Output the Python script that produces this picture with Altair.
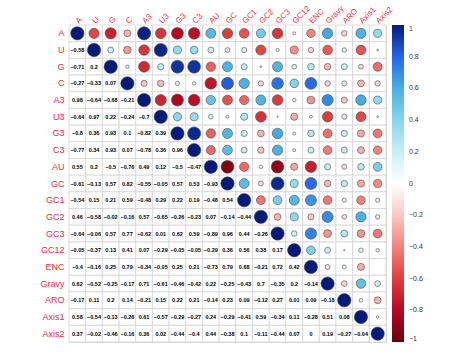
import altair as alt
import pandas as pd

variables = ["A", "U", "G", "C", "A3", "U3", "G3", "C3", "AU", "GC", "GC1", "GC2",
             "GC3", "GC12", "ENC", "Gravy", "ARO", "Axis1", "Axis2"]

# lower triangle (row i, columns 0..i-1)
lower_rows = [
    [],
    [-0.58],
    [-0.71, 0.2],
    [-0.27, -0.33, 0.07],
    [0.98, -0.64, -0.68, -0.21],
    [-0.64, 0.97, 0.22, -0.24, -0.7],
    [-0.8, 0.36, 0.93, 0.1, -0.82, 0.39],
    [-0.77, 0.34, 0.93, 0.07, -0.78, 0.36, 0.96],
    [0.55, 0.2, -0.5, -0.76, 0.49, 0.12, -0.5, -0.47],
    [-0.61, -0.13, 0.57, 0.82, -0.55, -0.05, 0.57, 0.53, -0.93],
    [-0.54, 0.15, 0.21, 0.59, -0.48, 0.29, 0.22, 0.19, -0.48, 0.54],
    [0.46, -0.58, -0.02, -0.16, 0.57, -0.65, -0.26, -0.23, 0.07, -0.14, -0.44],
    [-0.64, -0.06, 0.57, 0.77, -0.62, 0.01, 0.62, 0.59, -0.89, 0.96, 0.44, -0.26],
    [-0.05, -0.37, 0.13, 0.41, 0.07, -0.29, -0.05, -0.05, -0.29, 0.36, 0.56, 0.38, 0.17],
    [-0.4, -0.16, 0.25, 0.79, -0.34, -0.05, 0.25, 0.21, -0.73, 0.79, 0.68, -0.21, 0.72, 0.42],
    [0.62, -0.52, -0.25, -0.17, 0.71, -0.61, -0.46, -0.42, 0.22, -0.25, -0.43, 0.7, -0.35, 0.2, -0.14],
    [-0.17, 0.11, 0.2, 0.14, -0.21, 0.15, 0.22, 0.21, -0.14, 0.23, 0.09, -0.12, 0.27, 0.01, 0.09, -0.18],
    [0.58, -0.54, -0.13, -0.26, 0.61, -0.57, -0.29, -0.27, 0.24, -0.29, -0.41, 0.59, -0.34, 0.11, -0.28, 0.51, 0.08],
    [0.37, -0.02, -0.46, -0.16, 0.36, 0.02, -0.44, -0.4, 0.44, -0.38, 0.1, -0.11, -0.44, 0.07, 0, 0.19, -0.27, -0.04],
]

legend_ticks = [1, 0.8, 0.6, 0.4, 0.2, 0, -0.2, -0.4, -0.6, -0.8, -1]

n = len(variables)


def corr(i, j):
    if i == j:
        return 1.0
    if i > j:
        return lower_rows[i][j]
    return lower_rows[j][i]


def fmt(v):
    return f"{v:g}".replace("-", "\u2212")


cells, circles, texts = [], [], []
for i, vi in enumerate(variables):
    for j, vj in enumerate(variables):
        r = corr(i, j)
        cells.append({"row": vi, "col": vj})
        if i <= j:
            circles.append({"row": vi, "col": vj, "r": r, "absr": abs(r)})
        else:
            texts.append({"row": vi, "col": vj, "label": fmt(r)})

df_cells = pd.DataFrame(cells)
df_circ = pd.DataFrame(circles)
df_text = pd.DataFrame(texts)

FONT = "Liberation Sans"
LABEL_RED = "#EE2A3A"

xenc = alt.X("col:N", sort=variables, scale=alt.Scale(paddingInner=0, paddingOuter=0),
             axis=alt.Axis(orient="top", title=None, labelAngle=-45, labelAlign="left",
                           labelBaseline="middle", labelColor=LABEL_RED, labelFontSize=8,
                           labelFont=FONT, ticks=False, domain=False, labelPadding=3))
yenc = alt.Y("row:N", sort=variables, scale=alt.Scale(paddingInner=0, paddingOuter=0),
             axis=alt.Axis(title=None, labelColor=LABEL_RED, labelFontSize=9, labelFont=FONT,
                           ticks=False, domain=False, labelPadding=5))

grid = alt.Chart(df_cells).mark_rect(fill="white", stroke="#D4D4D4", strokeWidth=0.8).encode(
    x=xenc, y=yenc)

color_scale = alt.Scale(
    domain=[-1, -0.8, -0.6, -0.4, -0.2, 0, 0.2, 0.4, 0.6, 0.8, 1],
    range=["#67000F", "#B50A24", "#E0403E", "#F2827C", "#F9C8C3", "#FFFFFF",
           "#C8EEF7", "#86D6EC", "#4AAEE2", "#2565E6", "#061A78"],
    interpolate="rgb",
)

circ = alt.Chart(df_circ).mark_circle(opacity=1, stroke="#4A4A4A", strokeWidth=0.6).encode(
    x=alt.X("col:N", sort=variables),
    y=alt.Y("row:N", sort=variables),
    size=alt.Size("absr:Q", scale=alt.Scale(domain=[0, 1], range=[0, 178]), legend=None),
    color=alt.Color("r:Q", scale=color_scale,
                    legend=alt.Legend(orient="none", legendX=323, legendY=0, title=None,
                                      gradientLength=317, gradientThickness=12,
                                      values=legend_ticks, labelFontSize=7, labelFont=FONT,
                                      labelColor="#333333", labelOffset=5, format=".1~f",
                                      gradientStrokeWidth=0, direction="vertical")),
)

txt = alt.Chart(df_text).mark_text(fontSize=5.5, fontWeight="bold", font=FONT, color="black").encode(
    x=alt.X("col:N", sort=variables),
    y=alt.Y("row:N", sort=variables),
    text="label:N",
)

chart = alt.layer(grid, circ, txt).properties(
    width=317, height=317,
    autosize=alt.AutoSizeParams(type="none"),
    padding={"left": 69, "top": 25, "right": 88, "bottom": 12},
).configure_view(stroke=None).configure(background="white")

chart.save("out.html", embed_options={"renderer": "svg", "actions": False})
